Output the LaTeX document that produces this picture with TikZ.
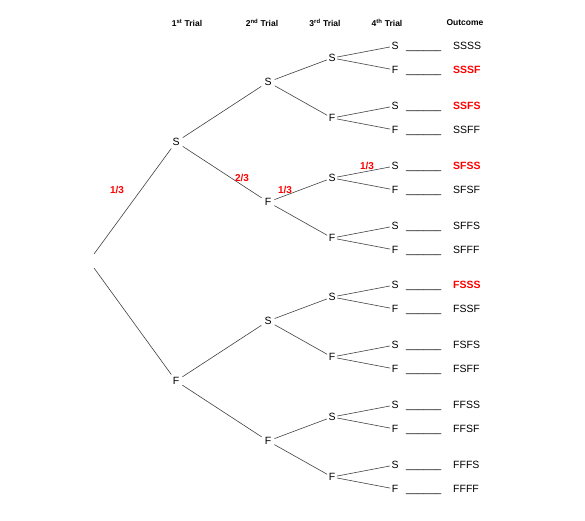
\documentclass[tikz,border=0pt]{standalone}
\usepackage{fontspec}
\setmainfont{Liberation Sans}
\begin{document}
\begin{tikzpicture}[x=1pt,y=-1pt,
  lbl/.style={font=\fontsize{10.5}{12}\selectfont, inner xsep=3pt, inner ysep=2.5pt, text height=7.5pt, text depth=0pt},
  lblr/.style={lbl, inner xsep=1.5pt, inner ysep=1.5pt},
  edge/.style={draw=black!75, line width=0.6pt},
  hdr/.style={font=\bfseries\fontsize{8.5}{10}\selectfont, inner sep=0pt},
  prob/.style={font=\bfseries\fontsize{10}{12}\selectfont, text=red, inner sep=0pt},
  outc/.style={font=\fontsize{10.5}{12}\selectfont, anchor=west, inner sep=0pt},
  hot/.style={text=red, font=\bfseries\fontsize{10.5}{12}\selectfont},
  uline/.style={font=\fontsize{10.5}{12}\selectfont, anchor=base west, inner sep=0pt}
]
\useasboundingbox (0,0) rectangle (585,520);

% headers
\node[hdr] (h1) at (187,23) {1\textsuperscript{st} Trial};
\node[hdr] (h2) at (262,23) {2\textsuperscript{nd} Trial};
\node[hdr] (h3) at (325,23) {3\textsuperscript{rd} Trial};
\node[hdr] (h4) at (387,23) {4\textsuperscript{th} Trial};
\node[hdr] (h5) at (465,23) {Outcome};

% root (two free ends)
\coordinate (r1) at (94,254);
\coordinate (r2) at (94,268);

% level 1
\node[lbl] (a1) at (176,142) {S};
\node[lbl] (a2) at (176,381) {F};

% level 2
\node[lbl] (b1) at (268,82) {S};
\node[lbl] (b2) at (268,202) {F};
\node[lbl] (b3) at (268,321) {S};
\node[lbl] (b4) at (268,441) {F};

% level 3
\foreach \i/\y/\t in {1/58/S,2/118/F,3/178/S,4/238/F,5/297/S,6/357/F,7/417/S,8/477/F}
  \node[lblr] (c\i) at (332,\y) {\t};

% level 4, blanks, outcomes
\foreach \i/\y/\t/\o/\h in {
  1/46/S/SSSS/0, 2/70/F/SSSF/1, 3/106/S/SSFS/1, 4/130/F/SSFF/0,
  5/166/S/SFSS/1, 6/190/F/SFSF/0, 7/226/S/SFFS/0, 8/250/F/SFFF/0,
  9/285/S/FSSS/1, 10/309/F/FSSF/0, 11/345/S/FSFS/0, 12/369/F/FSFF/0,
  13/405/S/FFSS/0, 14/429/F/FFSF/0, 15/465/S/FFFS/0, 16/489/F/FFFF/0}{
  \node[lblr] (d\i) at (395,\y) {\t};
  \node[uline] (u\i) at (406,\y+3.75) {\_\_\_\_\_\_};
  \ifnum\h=1
    \node[outc,hot] (o\i) at (453,\y) {\o};
  \else
    \node[outc] (o\i) at (453,\y) {\o};
  \fi
}

% connectors
\draw[edge] (r1) -- (a1);
\draw[edge] (r2) -- (a2);
\draw[edge] (a1) -- (b1);
\draw[edge] (a1) -- (b2);
\draw[edge] (a2) -- (b3);
\draw[edge] (a2) -- (b4);
\draw[edge] (b1) -- (c1);
\draw[edge] (b1) -- (c2);
\draw[edge] (b2) -- (c3);
\draw[edge] (b2) -- (c4);
\draw[edge] (b3) -- (c5);
\draw[edge] (b3) -- (c6);
\draw[edge] (b4) -- (c7);
\draw[edge] (b4) -- (c8);
\foreach \i [evaluate=\i as \j using int(2*\i-1), evaluate=\i as \k using int(2*\i)] in {1,...,8}{
  \draw[edge] (c\i) -- (d\j);
  \draw[edge] (c\i) -- (d\k);
}

% probabilities
\node[prob] (p1) at (117,190) {1/3};
\node[prob] (p2) at (242,178) {2/3};
\node[prob] (p3) at (285,190) {1/3};
\node[prob] (p4) at (367,166) {1/3};
\end{tikzpicture}
\end{document}
